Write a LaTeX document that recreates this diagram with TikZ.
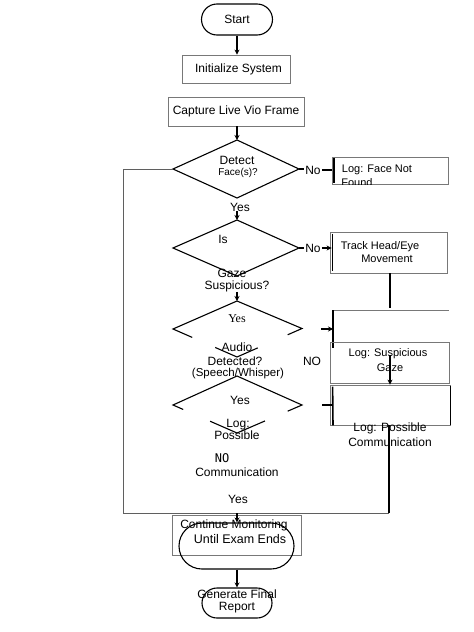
\documentclass[tikz,border=0pt]{standalone}
\usepackage{fontspec}
\setmainfont{Liberation Sans}
\newfontfamily\yesserif{Liberation Serif}
\newfontfamily\nomono{DejaVu Sans Mono}
\usepackage{tikz}
\usetikzlibrary{arrows.meta, shapes.misc, calc}
\definecolor{EdgeGrey}{RGB}{120, 120, 120}
\definecolor{LoopGrey}{RGB}{95, 95, 95}

\tikzset{
  flow/.style={line width=1.1pt, black},
  arr/.style={flow, -{Stealth[length=5pt, width=5pt]}},
  box/.style={draw=EdgeGrey, line width=0.8pt, inner sep=0pt},
  term/.style={draw, line width=1.1pt, rounded rectangle, inner sep=0pt},
  lbl/.style={font=\fontsize{12}{13}\selectfont, inner sep=0pt},
  lbls/.style={font=\fontsize{11}{12}\selectfont, inner sep=0pt},
  edgebar/.style={line width=1.6pt, black}
}

\begin{document}
\begin{tikzpicture}[x=1pt, y=-1pt]
    \useasboundingbox (0,0) rectangle (474,632);

    % Start and set-up
    \node[term, lbl, minimum width=71pt, minimum height=31pt] (start) at (237,19.5) {Start};
    \node[box, lbl, minimum width=108pt, minimum height=28pt] (init) at (236,69) {\hspace{5pt}Initialize System};
    \node[box, lbl, minimum width=136pt, minimum height=29pt] (capture) at (236,111.5) {Capture Live Vio Frame};
    \draw[arr] (start.south) -- (start.south |- init.north);

    % Decision: face
    \coordinate (d1t) at (237,140);
    \coordinate (d1r) at (299,169);
    \coordinate (d1b) at (237,198);
    \coordinate (d1l) at (173,169);
    \draw[flow] (d1t) -- (d1r) -- (d1b) -- (d1l) -- cycle;
    \draw[arr] (capture.south -| d1t) -- (d1t);
    \node[lbl] (detA) at (237,160) {Detect};
    \node[lbl, font=\fontsize{10}{11}\selectfont] (detB) at (238,173) {Face(s)?};
    \node[lbl] (yesA) at (240,207) {Yes};

    % Decision: gaze
    \coordinate (d2t) at (237,220);
    \coordinate (d2r) at (299,248);
    \coordinate (d2b) at (237,276);
    \coordinate (d2l) at (173,248);
    \draw[flow] (d2t) -- (d2r) -- (d2b) -- (d2l) -- cycle;
    \draw[arr] (yesA.south -| d2t) -- (d2t);
    \node[lbl] (isT) at (223,239) {Is};
    \node[lbl] (gazeT) at (232,273) {Gaze};
    \node[lbl] (suspT) at (237,286) {Suspicious?};

    % Decision: audio (broken outline)
    \coordinate (d3t) at (237,301);
    \coordinate (d3r) at (302,328.5);
    \coordinate (d3b) at (237,357);
    \coordinate (d3l) at (173,329);
    \draw[arr] (suspT.south -| d3t) -- (d3t);
    \draw[flow] ($(d3l)!.3!(d3b)$) -- (d3l) -- (d3t) -- (d3r) -- ($(d3r)!.22!(d3b)$);
    \draw[flow] ($(d3l)!.66!(d3b)$) -- (d3b) -- ($(d3r)!.68!(d3b)$);
    \node[lbl, font=\yesserif\fontsize{12}{13}\selectfont] (yesB) at (237,319) {Yes};
    \node[lbl] (audA) at (237,347) {Audio};
    \node[lbl] (audB) at (235,361) {Detected?};
    \node[lbl, font=\fontsize{11.5}{12}\selectfont] (audC) at (238,374) {(Speech/Whisper)};
    \node[lbl] (noB) at (312,361) {NO};

    % Decision: communication (broken outline)
    \coordinate (d4t) at (237,376);
    \coordinate (d4r) at (302,405);
    \coordinate (d4b) at (237,433);
    \coordinate (d4l) at (173,405);
    \draw[flow] ($(d4l)!.16!(d4b)$) -- (d4l) -- (d4t) -- (d4r) -- ($(d4r)!.22!(d4b)$);
    \draw[flow] ($(d4l)!.58!(d4b)$) -- (d4b) -- ($(d4r)!.57!(d4b)$);
    \node[lbl] (yesC) at (240,400) {Yes};
    \node[lbl] (logA) at (238,425) {Log:};
    \node[lbl] (logB) at (237,435) {Possible};
    \node[lbl, font=\nomono\fontsize{12}{13}\selectfont] (noC) at (222,458) {NO};
    \node[lbl] (logC) at (237,472) {Communication};

    % Face not found
    \node[box, minimum width=116pt, minimum height=27pt] (faceBox) at (390,170.5) {};
    \draw[edgebar] ($(faceBox.north west)+(2.5,1.5)$) -- ($(faceBox.south west)+(2.5,-1)$);
    \node[lbls] (faceT) at (377,170) {Log: Face Not};
    \begin{scope}
      \clip (faceBox.north west) rectangle (faceBox.south east);
      \node[lbls] (foundT) at (357,182.5) {Found};
    \end{scope}
    \node[lbl, inner sep=1pt] (noA) at (313,170) {No};
    \draw[flow] (d1r) -- (d1r -| noA.west);
    \draw[flow] (noA.east) -- (noA.east -| faceBox.west);

    % Head / eye tracking
    \node[box, minimum width=117pt, minimum height=41pt] (trackBox) at (388.5,252.5) {};
    \draw[edgebar] ($(trackBox.north west)+(3,2)$) -- ($(trackBox.south west)+(3,-2)$);
    \node[lbls] (trackA) at (380,247) {Track Head/Eye};
    \node[lbls] (trackB) at (387,259) {Movement};
    \node[lbl, inner sep=1pt] (noD) at (313,248) {No};
    \draw[flow] (d2r) -- (d2r -| noD.west);
    \draw[arr] (noD.east) -- ($(noD.east -| trackBox.west)+(2,0)$);

    % Open frame and suspicious gaze
    \coordinate (gzTop) at (390,308);
    \coordinate (opnL) at (333,310);
    \coordinate (opnR) at (449,310);
    \coordinate (opnB) at (333,348);
    \coordinate (arrA) at (321,329);
    \draw[flow] (trackBox.south -| gzTop) -- (gzTop);
    \draw[EdgeGrey, line width=0.8pt] (opnL) -- (opnR);
    \draw[flow] (opnL) -- (opnB);
    \draw[arr] (arrA) -- (arrA -| opnL);
    \node[box, minimum width=119pt, minimum height=41pt] (gazeBox) at (389.5,362.5) {};
    \node[lbls] (gazeA) at (388,354) {Log: Suspicious};
    \node[lbls] (gazeB) at (390,368) {Gaze};

    % Possible communication
    \node[box, minimum width=120pt, minimum height=40pt] (commBox) at (390,405) {};
    \draw[edgebar] ($(commBox.north west)+(3,2)$) -- (commBox.south west -| opnL);
    \draw[edgebar] ($(commBox.north east)+(0,1)$) -- (commBox.south east);
    \coordinate (gzA) at (390,355);
    \draw[arr] (gzA) -- (gzA |- commBox.north);
    \coordinate (cmA) at (322,405);
    \draw[flow] (cmA) -- (cmA -| opnL);
    \node[lbl] (commA) at (390,428) {Log: Possible};
    \node[lbl] (commB) at (390,442) {Communication};

    % Loop back line
    \coordinate (loopTL) at (123,169);
    \coordinate (loopBL) at (123,513);
    \coordinate (loopBR) at (389,513);
    \draw[LoopGrey, line width=1pt] (d1l) -- (loopTL) -- (loopBL) -- (loopBR);
    \draw[flow] (commBox.south -| loopBR) -- (loopBR);
    \node[lbl] (yesD) at (238,499) {Yes};

    % Continue and finish
    \node[box, minimum width=129pt, minimum height=40pt] (contBox) at (236.5,535) {};
    \node[term, minimum width=115pt, minimum height=46pt] (until) at (236.5,546) {};
    \node[lbl] (contA) at (234,525) {Continue Monitoring};
    \node[lbl, font=\fontsize{12.5}{13}\selectfont] (contB) at (240,539) {Until Exam Ends};
    \coordinate (joinC) at (237,513);
    \draw[arr] (joinC) -- (joinC |- until.north);
    \node[term, minimum width=70pt, minimum height=30pt] (gen) at (237,603) {};
    \node[lbl] (genA) at (237,594) {Generate Final};
    \node[lbl] (genB) at (237,608) {Report};
    \draw[arr] (until.south -| gen.north) -- (gen.north);
\end{tikzpicture}
\end{document}
